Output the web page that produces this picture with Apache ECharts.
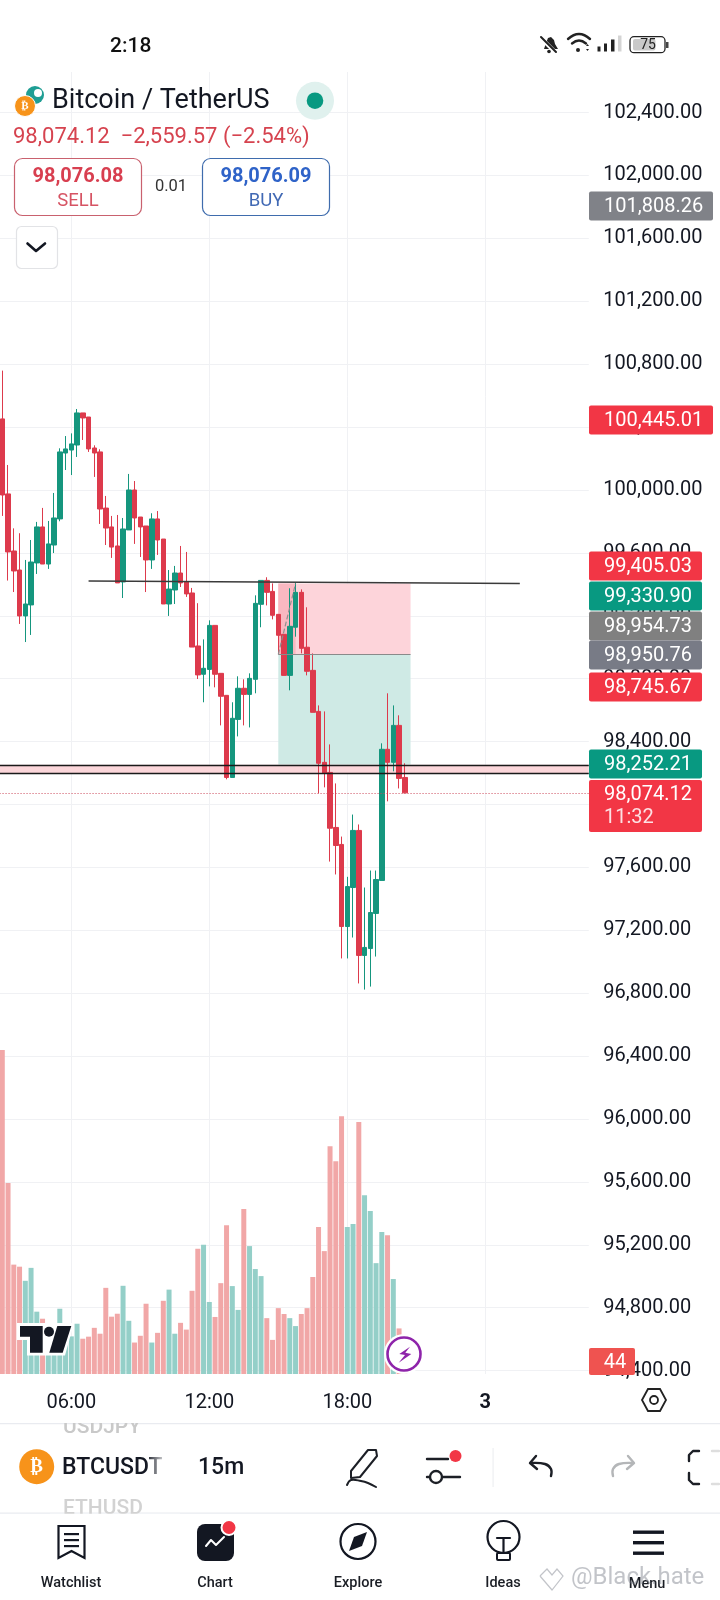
<!DOCTYPE html>
<html>
<head>
<meta charset="utf-8">
<title>BTCUSDT 15m</title>
<style>
  html, body { margin: 0; padding: 0; background: #fff; }
  #main { width: 720px; height: 1600px; }
</style>
<script src="https://cdn.jsdelivr.net/npm/echarts@6/dist/echarts.min.js"></script>
</head>
<body>
<div id="main"></div>
<script>
// candles (15m)
const opens = [100452,99975,99612,99491,99199,99269,99536,99765,99529,99650,99816,100235,100254,100286,100490,100464,100267,100242,99885,99765,99644,99415,99746,100000,99828,99771,99555,99816,99688,99275,99364,99472,99415,99345,99008,98828,98859,99139,98834,98694,98172,98541,98739,98700,98796,99273,99425,99355,99209,99082,98821,99127,99349,99000,98853,98592,98268,98204,97854,97746,97224,97472,97835,97040,97084,97307,97517,98351,98268,98503,98172];
const closes = [99968,99606,99485,99199,99275,99542,99765,99529,99657,99822,100242,100261,100293,100490,100458,100261,100235,99879,99758,99637,99409,99752,100000,99822,99765,99555,99816,99682,99275,99370,99472,99409,99339,99001,98824,98866,99139,98828,98688,98172,98548,98739,98700,98802,99279,99425,99349,99203,99076,98821,99133,99349,98993,98847,98586,98262,98198,97849,97739,97224,97478,97835,97040,97091,97313,97523,98351,98268,98503,98166,98074];
const lows = [99835,99424,99351,99148,99033,99078,99466,99529,99498,99599,99801,100127,100095,100210,100318,100242,100083,99784,99650,99568,99409,99313,99746,99657,99574,99351,99498,99587,99275,99199,99275,99383,99320,99001,98798,98650,98751,98745,98503,98160,98172,98433,98503,98490,98707,99127,99266,99177,98955,98821,98726,99067,98961,98821,98586,98071,98109,97637,97555,97021,97021,97154,96862,96823,96842,97033,97517,98020,98211,98102,98071];
const highs = [100759,100159,99756,99725,99555,99682,99797,99886,99803,99981,100265,100343,100360,100515,100490,100464,100284,100259,99962,99835,99841,99822,100102,100057,99828,99771,99852,99866,99688,99491,99517,99644,99606,99377,99280,99050,99171,99139,98834,98694,98650,98815,98796,98834,99330,99425,99445,99406,99209,99082,99375,99411,99368,99254,98961,98630,98592,98382,98134,97796,97540,97936,97873,97472,97580,97580,98389,98707,98630,98567,98262];
const volumes = [1102,650,372,365,317,361,212,188,151,139,222,151,128,171,120,127,157,137,293,195,205,300,181,107,130,239,107,140,249,287,137,174,151,283,426,440,245,194,309,506,299,218,561,435,357,333,190,116,224,204,190,163,204,224,330,500,418,775,724,877,500,510,857,608,554,377,483,472,323,155,44];

// price levels and drawings (x given as slot on the 15m axis)
const trendStart = [16, 99421];
const trendEnd = [91, 99405];
const shortTop = 99405;
const shortEntry = 98955;
const shortTarget = 98252;
const bandTop = 98252;
const bandBottom = 98198;
const lastPrice = 98074.12;
const shortStartBar = 49;
const shortEndBar = 72;
const shortHandleBar = 52;

// right hand price tags
const tagTexts = ['101,808.26', '100,445.01', '99,405.03', '99,330.90', '98,954.73', '98,950.76', '98,745.67', '98,252.21'];
const tagColors = ['#808288', '#f23645', '#f23645', '#089981', '#808080', '#787b86', '#f23645', '#089981'];
const tagCenters = [206, 420, 566, 596, 626, 655, 687, 764];

const RED = '#dd3a4c', GREEN = '#15967e', GRID = '#f0f1f4', INK = '#131722';
const F = 'Roboto';

// 15m slots: one blank slot off the left edge, then the bars, then empty room on the right
const slotCount = 104;
const categories = [];
for (let i = 0; i < slotCount; i++) {
  const m = (2 * 60 + 45 + i * 15) % 1440;
  categories.push(String(Math.floor(m / 60)).padStart(2, '0') + ':' + String(m % 60).padStart(2, '0'));
}
const isMajor = (idx, name) => name === '06:00' || name === '12:00' || name === '18:00' || name === '00:00';

const candleData = ['-'].concat(opens.map((o, i) => [o, closes[i], lows[i], highs[i]]));
const volumeData = ['-'].concat(volumes.map((v, i) => ({
  value: v,
  itemStyle: { color: closes[i] >= opens[i] ? '#94cfc8' : '#f1a7a7' }
})));

// graphic helpers for the app chrome round the chart
const txt = (x, y, text, size, fill, weight, align) => ({
  type: 'text', x, y: y + 1.5, z: 100, silent: true,
  style: { text, fill, font: (weight || 400) + ' ' + size + 'px ' + F, textAlign: align || 'left', textVerticalAlign: 'middle', align: align || 'left', verticalAlign: 'middle' }
});
const rect = (x, y, w, h, fill, r, stroke, lw) => ({
  type: 'rect', z: 100, silent: true, shape: { x, y, width: w, height: h, r: r || 0 },
  style: { fill: fill || 'transparent', stroke: stroke || null, lineWidth: lw || 1 }
});
const circle = (cx, cy, r, fill, stroke, lw) => ({
  type: 'circle', z: 100, silent: true, shape: { cx, cy, r },
  style: { fill: fill || 'transparent', stroke: stroke || null, lineWidth: lw || 1 }
});
const poly = (points, fill) => ({ type: 'polygon', z: 100, silent: true, shape: { points }, style: { fill } });
const stroke = (points, color, lw, smooth) => ({
  type: 'polyline', z: 100, silent: true, shape: { points, smooth: smooth || 0 },
  style: { stroke: color, lineWidth: lw || 2, fill: null, lineCap: 'round', lineJoin: 'round' }
});
const fade = (x, y, w, h) => ({
  type: 'rect', z: 100, silent: true, shape: { x, y, width: w, height: h },
  style: { fill: new echarts.graphic.LinearGradient(0, 0, 1, 0, [{ offset: 0, color: 'rgba(255,255,255,0)' }, { offset: 1, color: '#fff' }]) }
});

const chrome = [];
// status bar
chrome.push(txt(110, 45, '2:18', 21, '#111', 500));
chrome.push(poly([[544, 49], [546, 43], [548, 38], [551, 37], [554, 40], [555, 44], [558, 49]], '#222'));
chrome.push(stroke([[540, 37], [556, 53]], '#fff', 4), stroke([[541, 37], [556, 52]], '#222', 2));
chrome.push(circle(549, 51.5, 1.8, '#222'));
chrome.push(stroke([[568, 39], [579, 34], [590, 39]], '#222', 2.4, 0.5), stroke([[572, 43.5], [579, 40.5], [586, 43.5]], '#222', 2.4, 0.5));
chrome.push(circle(578, 50, 2, '#222'), poly([[586, 46], [589, 46], [587.5, 44]], '#222'), poly([[586, 49], [589, 49], [587.5, 51]], '#222'));
chrome.push(rect(597.5, 46.5, 3, 5, '#222'), rect(604, 43.5, 3, 8, '#222'), rect(611, 39.5, 3.5, 12, '#222'), rect(618, 35.5, 3.5, 16, '#d4d4d4'));
chrome.push(rect(630, 36.7, 35, 16, null, 4, '#222', 1.3), rect(633, 39, 22.5, 11.5, '#c9c9c9', 2), rect(666, 42, 2.5, 6, '#444'));
chrome.push(txt(648, 43.5, '75', 14, '#222', 400, 'center'));

// symbol header
chrome.push(circle(35, 95, 9, '#1f9e94'), circle(38, 93, 4, '#fff'), circle(25, 106, 10.5, '#f7931a', '#fff', 1));
chrome.push(txt(25, 105, '₿', 11, '#fff', 700, 'center'));
chrome.push(txt(52, 99.5, 'Bitcoin / TetherUS', 27, INK));
chrome.push(circle(315, 100.7, 19, '#e0f1ee'), circle(315, 100.7, 8.3, '#089981'));
chrome.push(txt(13, 135.5, '98,074.12  −2,559.57 (−2.54%)', 22, '#d6434f'));
chrome.push(rect(14.5, 158.5, 127, 57, '#fff', 8, '#c9616e', 1.2), rect(202.5, 158.5, 127, 57, '#fff', 8, '#3f6cad', 1.2));
chrome.push(txt(78, 175, '98,076.08', 20, '#d83f50', 700, 'center'), txt(78, 199.5, 'SELL', 18.5, '#d65363', 400, 'center'));
chrome.push(txt(266, 175, '98,076.09', 20, '#2f63c8', 700, 'center'), txt(266, 199.5, 'BUY', 18.5, '#4169b4', 400, 'center'));
chrome.push(txt(171, 185, '0.01', 16.5, '#333', 400, 'center'));
chrome.push(rect(16.5, 226.5, 41, 42, '#fff', 5, '#e2e3e6', 1.2), stroke([[27.5, 243.5], [36, 251], [45, 243.5]], '#131722', 2.6));

// price tags, they sit over the tick labels
tagTexts.forEach((t, i) => {
  const w = t.length > 9 ? 124 : 113;
  chrome.push(rect(589, tagCenters[i] - 14.5, w, 29, tagColors[i], 2));
  chrome.push(txt(604, tagCenters[i] - 1, t, 20, '#fff'));
});
chrome.push(rect(589, 780, 113, 52, '#f23645', 2), txt(604, 793, '98,074.12', 20, '#fff'), txt(604, 816, '11:32', 20, '#fde0e3'));
chrome.push(rect(589, 1348, 46, 27, '#ef5350', 2), txt(615, 1361, '44', 20, '#fff', 400, 'center'));

// tradingview logo and the lightning button on the chart
chrome.push(poly([[17, 1323], [74, 1323], [65, 1355.5], [27, 1355.5], [27, 1340], [17, 1340]], '#fff'));
chrome.push(poly([[20, 1326], [42.7, 1326], [42.7, 1352.7], [30, 1352.7], [30, 1336.7], [20, 1336.7]], '#131722'));
chrome.push(circle(49, 1331.7, 5, '#131722'));
chrome.push(poly([[57.3, 1326], [71.3, 1326], [62.7, 1352.7], [49.3, 1352.7]], '#131722'));
chrome.push(circle(404, 1354, 20, '#fff'), circle(404, 1354, 16.5, '#fff', '#8e24aa', 2.6));
chrome.push(poly([[410, 1346.7], [399.3, 1354], [405, 1355], [398.7, 1362.7], [411.3, 1354], [405.3, 1352.7]], '#8e24aa'));

// settings hexagon next to the time axis
chrome.push(rect(640, 1383, 30, 34, '#fff'));
chrome.push({ type: 'polygon', z: 100, silent: true, shape: { points: [[642, 1400], [648, 1389], [660, 1389], [666, 1400], [660, 1411], [648, 1411]] }, style: { fill: '#fff', stroke: '#222', lineWidth: 1.8 } });
chrome.push(circle(654, 1400, 4, null, '#222', 1.8));

// toolbar
chrome.push(rect(0, 1423, 720, 1.2, '#e9ebf0'), rect(0, 1512.5, 720, 1.2, '#e9ebf0'));
chrome.push(txt(63, 1426, 'USDJPY', 21, '#c9c9c9', 500));
chrome.push(rect(50, 1410, 130, 13, '#fff'));
chrome.push(txt(63, 1507.5, 'ETHUSD', 21, '#d2d2d2', 500));
chrome.push(rect(50, 1513.7, 130, 10, '#fff'));
chrome.push(circle(36.7, 1466.7, 17.5, '#f7931a'), txt(36.7, 1466, '₿', 19, '#fff', 700, 'center'));
chrome.push(txt(62, 1467, 'BTCUSDT', 23, INK, 500), fade(146, 1452, 22, 30));
chrome.push(txt(198, 1467, '15m', 23, INK, 500));
chrome.push(stroke([[351, 1471], [368, 1450], [376, 1450], [377, 1456], [360, 1477], [351, 1478], [351, 1471]], '#1c1f26', 2));
chrome.push(stroke([[347, 1485], [351, 1480], [361, 1481], [368, 1483], [376, 1487]], '#1c1f26', 2, 0.4));
chrome.push(stroke([[427, 1459], [448, 1459]], '#1c1f26', 2.4), stroke([[427, 1477], [460, 1477]], '#1c1f26', 2.4));
chrome.push(circle(436, 1477, 6, '#fff', '#1c1f26', 2.4), circle(455.5, 1456, 6, '#f23645'));
chrome.push(rect(492.5, 1448, 1.2, 39, '#eeeff2'));
chrome.push(stroke([[536, 1456], [530, 1463], [537, 1469]], '#1c1f26', 2.4), stroke([[531, 1463], [545, 1464], [551, 1469], [551, 1476]], '#1c1f26', 2.4, 0.4));
chrome.push(stroke([[628, 1456], [634, 1463], [627, 1469]], '#b4b6b8', 2.4), stroke([[633, 1463], [619, 1464], [613, 1469], [613, 1476]], '#b4b6b8', 2.4, 0.4));
chrome.push(stroke([[699, 1451], [693, 1451], [689, 1455], [689, 1461]], '#1c1f26', 2.4), stroke([[689, 1473], [689, 1480], [693, 1484], [699, 1484]], '#1c1f26', 2.4));
chrome.push(stroke([[712, 1451], [719, 1451]], '#dedede', 2.4), stroke([[712, 1484], [719, 1484]], '#dedede', 2.4));

// bottom navigation
chrome.push({ type: 'polygon', z: 100, silent: true, shape: { points: [[58.5, 1526], [84.5, 1526], [84.5, 1558], [71.5, 1551], [58.5, 1558]] }, style: { fill: '#fff', stroke: '#131722', lineWidth: 2.2 } });
chrome.push(rect(64, 1533, 15, 2.2, '#131722'), rect(64, 1539, 15, 2.2, '#131722'), rect(64, 1545, 15, 2.2, '#131722'));
chrome.push(rect(197, 1524, 37, 37, '#131722', 8), circle(229, 1527.5, 7.5, '#f23645', '#fff', 2));
chrome.push(stroke([[206, 1546], [211, 1540], [216, 1545], [224, 1537]], '#fff', 2));
chrome.push(circle(358, 1541.5, 17.5, null, '#131722', 2.2), poly([[367, 1532], [362, 1546], [349, 1551], [354, 1537]], '#131722'));
chrome.push(circle(503.5, 1537, 16, null, '#131722', 2.2), rect(497, 1553, 13, 7, '#fff', 1, '#131722', 2));
chrome.push(stroke([[497, 1538], [510, 1538]], '#131722', 2.2), stroke([[503.5, 1538], [503.5, 1552]], '#131722', 2.2));
chrome.push(rect(633, 1530.5, 31, 3.4, '#131722'), rect(633, 1541, 31, 3.4, '#131722'), rect(633, 1551.5, 31, 3.4, '#131722'));
chrome.push(txt(71, 1582, 'Watchlist', 14.5, '#1a1d24', 500, 'center'), txt(215, 1582, 'Chart', 14.5, '#1a1d24', 500, 'center'));
chrome.push(txt(358, 1582, 'Explore', 14.5, '#1a1d24', 500, 'center'), txt(503, 1582, 'Ideas', 14.5, '#1a1d24', 500, 'center'), txt(647, 1583, 'Menu', 14.5, '#1a1d24', 500, 'center'));

// watermark
chrome.push(txt(571, 1576, '@Black.hate', 24, 'rgba(120,125,135,0.45)'));
chrome.push({ type: 'polyline', z: 100, silent: true, shape: { points: [[540, 1576], [547, 1569], [552, 1575], [557, 1569], [563, 1576], [552, 1590], [540, 1576]] }, style: { stroke: 'rgba(120,125,135,0.45)', fill: null, lineWidth: 1.2 } });

const chart = echarts.init(document.getElementById('main'), null, { renderer: 'canvas' });
chart.setOption({
  animation: false,
  backgroundColor: '#fff',
  textStyle: { fontFamily: F },
  grid: [
    { left: -3.45, width: 592.25, top: 72, height: 1298.6, outerBoundsMode: 'none' },
    { left: -3.45, width: 592.25, top: 1030, height: 344, outerBoundsMode: 'none' }
  ],
  xAxis: [
    {
      type: 'category', gridIndex: 0, data: categories, boundaryGap: false,
      axisLine: { show: false }, axisTick: { show: false }, axisLabel: { show: false },
      splitLine: { show: true, interval: isMajor, lineStyle: { color: GRID, width: 1 } }
    },
    {
      type: 'category', gridIndex: 1, data: categories, boundaryGap: false,
      axisLine: { show: false }, axisTick: { show: false },
      splitLine: { show: true, interval: isMajor, lineStyle: { color: GRID, width: 1 } },
      axisLabel: {
        interval: isMajor, margin: 19, fontSize: 20, color: INK, fontFamily: F,
        formatter: (v) => (v === '00:00' ? '{b|3}' : v),
        rich: { b: { fontSize: 20, fontWeight: 700, color: INK, fontFamily: F } }
      }
    }
  ],
  yAxis: [
    {
      type: 'value', gridIndex: 0, position: 'right', min: 94400, max: 102658, interval: 400, scale: true,
      axisLine: { show: false }, axisTick: { show: false },
      axisLabel: {
        margin: 14.5, fontSize: 20, color: INK, fontFamily: F, showMaxLabel: false, padding: [0, 0, 5, 0],
        formatter: (v) => v.toLocaleString('en-US', { minimumFractionDigits: 2, maximumFractionDigits: 2 })
      },
      splitLine: { show: true, showMaxLine: false, lineStyle: { color: GRID, width: 1 } }
    },
    { type: 'value', gridIndex: 1, min: 0, max: 1170, show: false, splitLine: { show: false } }
  ],
  series: [
    {
      // position box and the pink band sit behind everything
      type: 'line', xAxisIndex: 0, yAxisIndex: 0, data: [], z: 1, silent: true, symbol: 'none',
      markArea: {
        silent: true,
        data: [
          [{ coord: [shortStartBar, shortTop], itemStyle: { color: '#fdd4da' } }, { coord: [shortEndBar, shortEntry] }],
          [{ coord: [shortStartBar, shortTop], itemStyle: { color: '#fab8c1' } }, { coord: [shortHandleBar, shortEntry] }],
          [{ coord: [shortStartBar, shortEntry], itemStyle: { color: '#cfeae5' } }, { coord: [shortEndBar, shortTarget] }],
          [{ coord: [0, bandTop], itemStyle: { color: '#fbd6da' } }, { coord: [slotCount - 1, bandBottom] }]
        ]
      }
    },
    {
      type: 'line', xAxisIndex: 0, yAxisIndex: 0, data: [], z: 2, silent: true, symbol: 'none',
      markLine: {
        silent: true, symbol: 'none', label: { show: false }, animation: false,
        data: [
          [{ coord: trendStart, lineStyle: { color: '#3a3a3a', width: 1.4, type: 'solid' } }, { coord: trendEnd }],
          [{ coord: [shortStartBar, shortEntry], lineStyle: { color: '#8a8a8a', width: 1.2, type: 'solid' } }, { coord: [shortEndBar, shortEntry] }],
          [{ coord: [shortStartBar, shortEntry], lineStyle: { color: '#8f8f8f', width: 1.2, type: 'dashed' } }, { coord: [shortHandleBar, shortTop] }],
          [{ coord: [0, bandTop], lineStyle: { color: '#1a1a1a', width: 1.3, type: 'solid' } }, { coord: [slotCount - 1, bandTop] }],
          [{ coord: [0, bandBottom], lineStyle: { color: '#1a1a1a', width: 1.3, type: 'solid' } }, { coord: [slotCount - 1, bandBottom] }],
          [{ coord: [0, lastPrice], lineStyle: { color: '#cc4a5c', width: 1, type: [1, 2] } }, { coord: [slotCount - 1, lastPrice] }]
        ]
      }
    },
    {
      type: 'bar', xAxisIndex: 1, yAxisIndex: 1, data: volumeData, barWidth: 5, z: 3, silent: true
    },
    {
      type: 'candlestick', xAxisIndex: 0, yAxisIndex: 0, data: candleData, barWidth: 5, z: 4, silent: true,
      itemStyle: { color: GREEN, color0: RED, borderColor: GREEN, borderColor0: RED, borderWidth: 1 }
    }
  ],
  graphic: { elements: chrome }
});
</script>
</body>
</html>
